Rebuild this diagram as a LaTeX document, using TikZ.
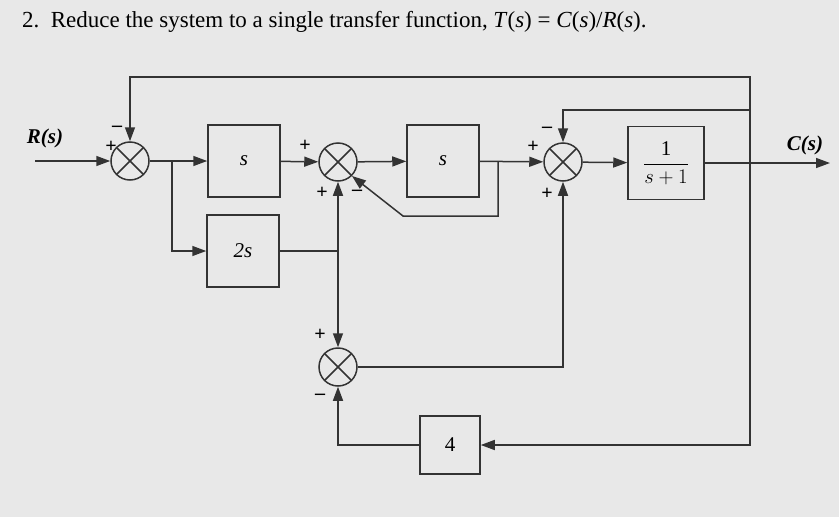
\documentclass[tikz,border=0pt]{standalone}
\usepackage{fontspec}
\setmainfont{Liberation Serif}
\usetikzlibrary{arrows.meta}
\newcommand{\fsz}[1]{\fontsize{#1}{#1}\selectfont}
\begin{document}
\begin{tikzpicture}[x=1pt,y=-1pt,
  line width=1.5pt, draw=black!80,
  sumj/.style={circle,draw,minimum size=38pt,inner sep=0pt,path picture={\draw[line width=1.5pt] ([xshift=6pt,yshift=-6pt]path picture bounding box.north west) -- ([xshift=-6pt,yshift=6pt]path picture bounding box.south east); \draw[line width=1.5pt] ([xshift=6pt,yshift=6pt]path picture bounding box.south west) -- ([xshift=-6pt,yshift=-6pt]path picture bounding box.north east);}},
  blk/.style={draw,minimum width=72pt,minimum height=72pt,inner sep=0pt,font=\fsz{21}\itshape},
  arr/.style={-{Triangle[length=14pt,width=10pt]}},
  sg/.style={font=\fsz{20}\bfseries}]
\fill[black!9] (0,0) rectangle (839,517);
\useasboundingbox (0,0) rectangle (839,517);
\node[anchor=west,font=\fsz{23}] (title) at (18,22) {2.\ \ Reduce the system to a single transfer function, \textit{T}(\textit{s}) = \textit{C}(\textit{s})/\textit{R}(\textit{s}).};
\node[sumj] (s1) at (130,161) {};
\node[sumj] (s2) at (338,162) {};
\node[sumj] (s3) at (563,162) {};
\node[sumj] (s4) at (338,367) {};
\node[blk] (b1) at (244,161) {s};
\node[blk] (b2) at (243,251) {2s};
\node[blk] (b3) at (443,161) {s};
\node[blk,minimum width=76pt,minimum height=73pt,font=\fsz{21}] (b5) at (666,163) {$\displaystyle\frac{\mathrm{1}}{s+1}$};
\node[blk,minimum width=60pt,minimum height=58pt,font=\fsz{21}] (b4) at (450,445) {4};
\node[font=\fsz{21}\itshape\bfseries] (R) at (45,138) {R(s)};
\node[font=\fsz{21}\itshape\bfseries] (C) at (805,145) {C(s)};
\coordinate (rin) at (35,161);
\coordinate (cout) at (830,163);
\coordinate (j1) at (172,161);
\coordinate (j2) at (338,251);
\coordinate (j3) at (498,161);
\coordinate (j4) at (750,163);
% main path
\draw[arr] (rin) -- (s1);
\draw[arr] (s1) -- (b1);
\draw[arr] (j1) |- (b2);
\draw[arr] (b1) -- (s2);
\draw[arr] (s2) -- (b3);
\draw[arr] (b3) -- (s3);
\draw[arr] (s3) -- (b5);
\draw[arr] (b5) -- (cout);
% 2s path
\draw (b2) -- (j2);
\draw[arr] (j2) -- (s2);
\draw[arr] (j2) -- (s4);
% inner s feedback
\draw[arr] (j3) |- (403,216) -- (s2.-45);
% sum4 to sum3
\draw[arr] (s4) -| (s3);
% outer feedback
\draw[arr] (j4) -- (750,77) -| (s1);
\draw[arr] (j4) -- (750,110) -| (s3);
\draw[arr] (j4) |- (b4);
\draw[arr] (b4) -| (s4);
% signs
\node[sg] at (111,147) {+};
\node[sg] at (117,129) {--};
\node[sg] at (305,146) {+};
\node[sg] at (322,193) {+};
\node[sg] at (357,193) {--};
\node[sg] at (533,147) {+};
\node[sg] at (547,130) {--};
\node[sg] at (547,194) {+};
\node[sg] at (320,335) {+};
\node[sg] at (320,397) {--};
\end{tikzpicture}
\end{document}
